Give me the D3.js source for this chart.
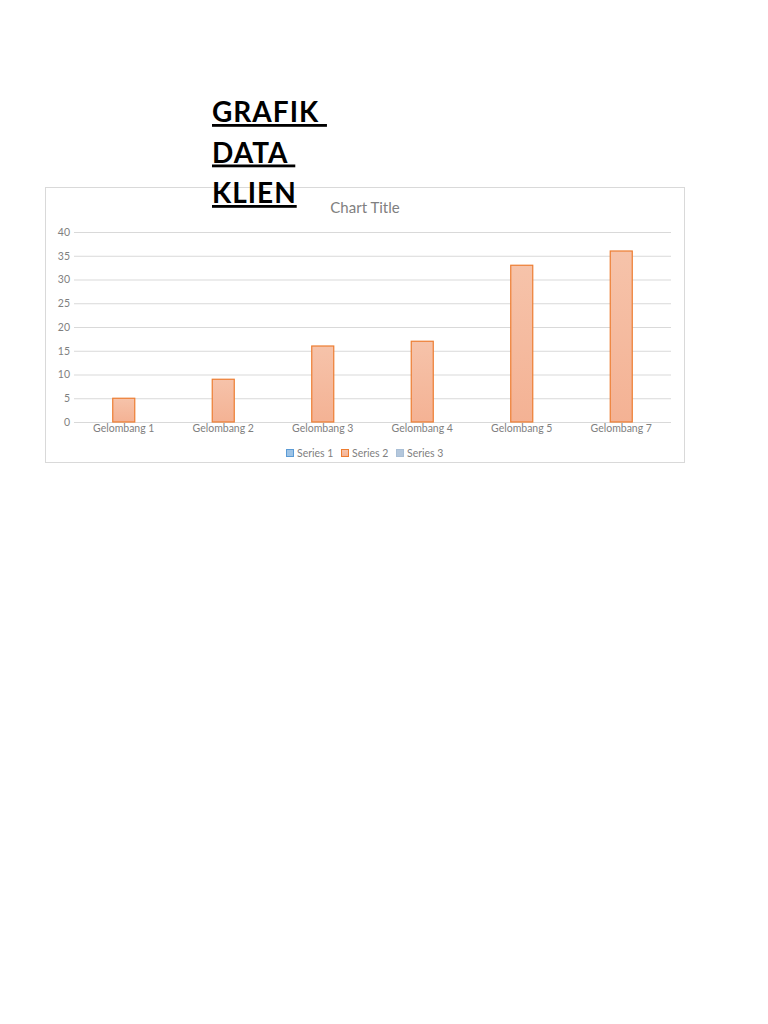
<!DOCTYPE html>
<html>
<head>
<meta charset="utf-8">
<script src="https://cdn.jsdelivr.net/npm/d3@7"></script>
<style>
	body { margin: 0; background: #fff; }
	svg { display: block; }
</style>
</head>
<body>
<div id="chart"></div>
<script>
// data
var categories = ["Gelombang 1", "Gelombang 2", "Gelombang 3", "Gelombang 4", "Gelombang 5", "Gelombang 7"];
var seriesNames = ["Series 1", "Series 2", "Series 3"];
var series1 = [0, 0, 0, 0, 0, 0];
var series2 = [5, 9, 16, 17, 33, 36];
var series3 = [0, 0, 0, 0, 0, 0];
var yTicks = [0, 5, 10, 15, 20, 25, 30, 35, 40];
var headingLines = ["GRAFIK ", "DATA ", "KLIEN"];

var allSeries = [series1, series2, series3];
var fills = ["#9dc3e6", "url(#barGrad)", "#b4c7dc"];
var strokes = ["#5b9bd5", "#ed7d31", "#a9bfd6"];

var svg = d3.select("#chart")
	.append("svg")
	.attr("width", 768)
	.attr("height", 1024);

var defs = svg.append("defs");
var grad = defs.append("linearGradient")
	.attr("id", "barGrad")
	.attr("x1", 0).attr("y1", 0)
	.attr("x2", 0).attr("y2", 1);
grad.append("stop").attr("offset", "0%").attr("stop-color", "#f6c3aa");
grad.append("stop").attr("offset", "100%").attr("stop-color", "#f4b294");

// chart frame
svg.append("rect")
	.attr("x", 45.5)
	.attr("y", 187.5)
	.attr("width", 639)
	.attr("height", 275)
	.attr("fill", "#fff")
	.attr("stroke", "#d9d9d9");

var margin = {left: 74, top: 232, right: 671, bottom: 422};

var x = d3.scaleBand()
	.domain(categories)
	.range([margin.left, margin.right]);

var x1 = d3.scaleBand()
	.domain(seriesNames)
	.range([0, x.bandwidth()])
	.paddingInner(0)
	.paddingOuter(0.76);

var y = d3.scaleLinear()
	.domain([0, 40])
	.range([margin.bottom, margin.top]);

// gridlines
svg.append("g")
	.selectAll("line")
	.data(yTicks)
	.enter()
	.append("line")
	.attr("x1", margin.left)
	.attr("x2", margin.right)
	.attr("y1", function(d) { return y(d) + 0.5; })
	.attr("y2", function(d) { return y(d) + 0.5; })
	.attr("stroke", "#d9d9d9")
	.attr("stroke-width", 1);

// y axis labels
var yAxis = svg.append("g")
	.attr("transform", "translate(" + margin.left + ",0)")
	.call(d3.axisLeft(y).tickValues(yTicks).tickSize(0).tickPadding(4));
yAxis.select(".domain").remove();
yAxis.selectAll("text")
	.style("font-family", "Lato, 'Open Sans', sans-serif")
	.style("font-size", "10.5px")
	.attr("fill", "#7f7f7f");

// x axis labels
var xAxis = svg.append("g")
	.attr("transform", "translate(0," + margin.bottom + ")")
	.call(d3.axisBottom(x).tickSize(0).tickPadding(3));
xAxis.select(".domain").remove();
xAxis.selectAll("text")
	.style("font-family", "Lato, 'Open Sans', sans-serif")
	.style("font-size", "10.5px")
	.attr("fill", "#7f7f7f");

// bars
allSeries.forEach(function(vals, si) {
	svg.append("g")
		.selectAll("rect")
		.data(vals)
		.enter()
		.filter(function(d) { return d > 0; })
		.append("rect")
		.attr("x", function(d, i) {
			return x(categories[i]) + x1(seriesNames[si]);
		})
		.attr("y", function(d) { return y(d); })
		.attr("width", x1.bandwidth())
		.attr("height", function(d) { return y(0) - y(d); })
		.attr("fill", fills[si])
		.attr("stroke", strokes[si])
		.attr("stroke-width", 1.2);
});

// chart title
svg.append("text")
	.attr("x", 365)
	.attr("y", 213)
	.attr("text-anchor", "middle")
	.style("font-family", "Lato, 'Open Sans', sans-serif")
	.style("font-size", "15px")
	.attr("fill", "#808080")
	.text("Chart Title");

// legend
var legend = svg.append("g")
	.attr("transform", "translate(286,453)");
var legX = [0, 55, 110];
seriesNames.forEach(function(name, i) {
	var g = legend.append("g").attr("transform", "translate(" + legX[i] + ",0)");
	g.append("rect")
		.attr("x", 0.5)
		.attr("y", -3.5)
		.attr("width", 7)
		.attr("height", 7)
		.attr("fill", fills[i])
		.attr("stroke", strokes[i]);
	g.append("text")
		.attr("x", 11)
		.attr("y", 3.5)
		.style("font-family", "Lato, 'Open Sans', sans-serif")
		.style("font-size", "10.5px")
		.attr("fill", "#7f7f7f")
		.text(name);
});

// heading above the chart
svg.append("g")
	.selectAll("text")
	.data(headingLines)
	.enter()
	.append("text")
	.attr("x", 212)
	.attr("y", function(d, i) { return 122 + i * 40.5; })
	.style("font-family", "Lato, 'Open Sans', sans-serif")
	.style("font-weight", "bold")
	.style("font-size", "28px")
	.style("letter-spacing", "1px")
	.style("text-decoration", "underline")
	.style("white-space", "pre")
	.attr("fill", "#000")
	.text(function(d) { return d; });
</script>
</body>
</html>
